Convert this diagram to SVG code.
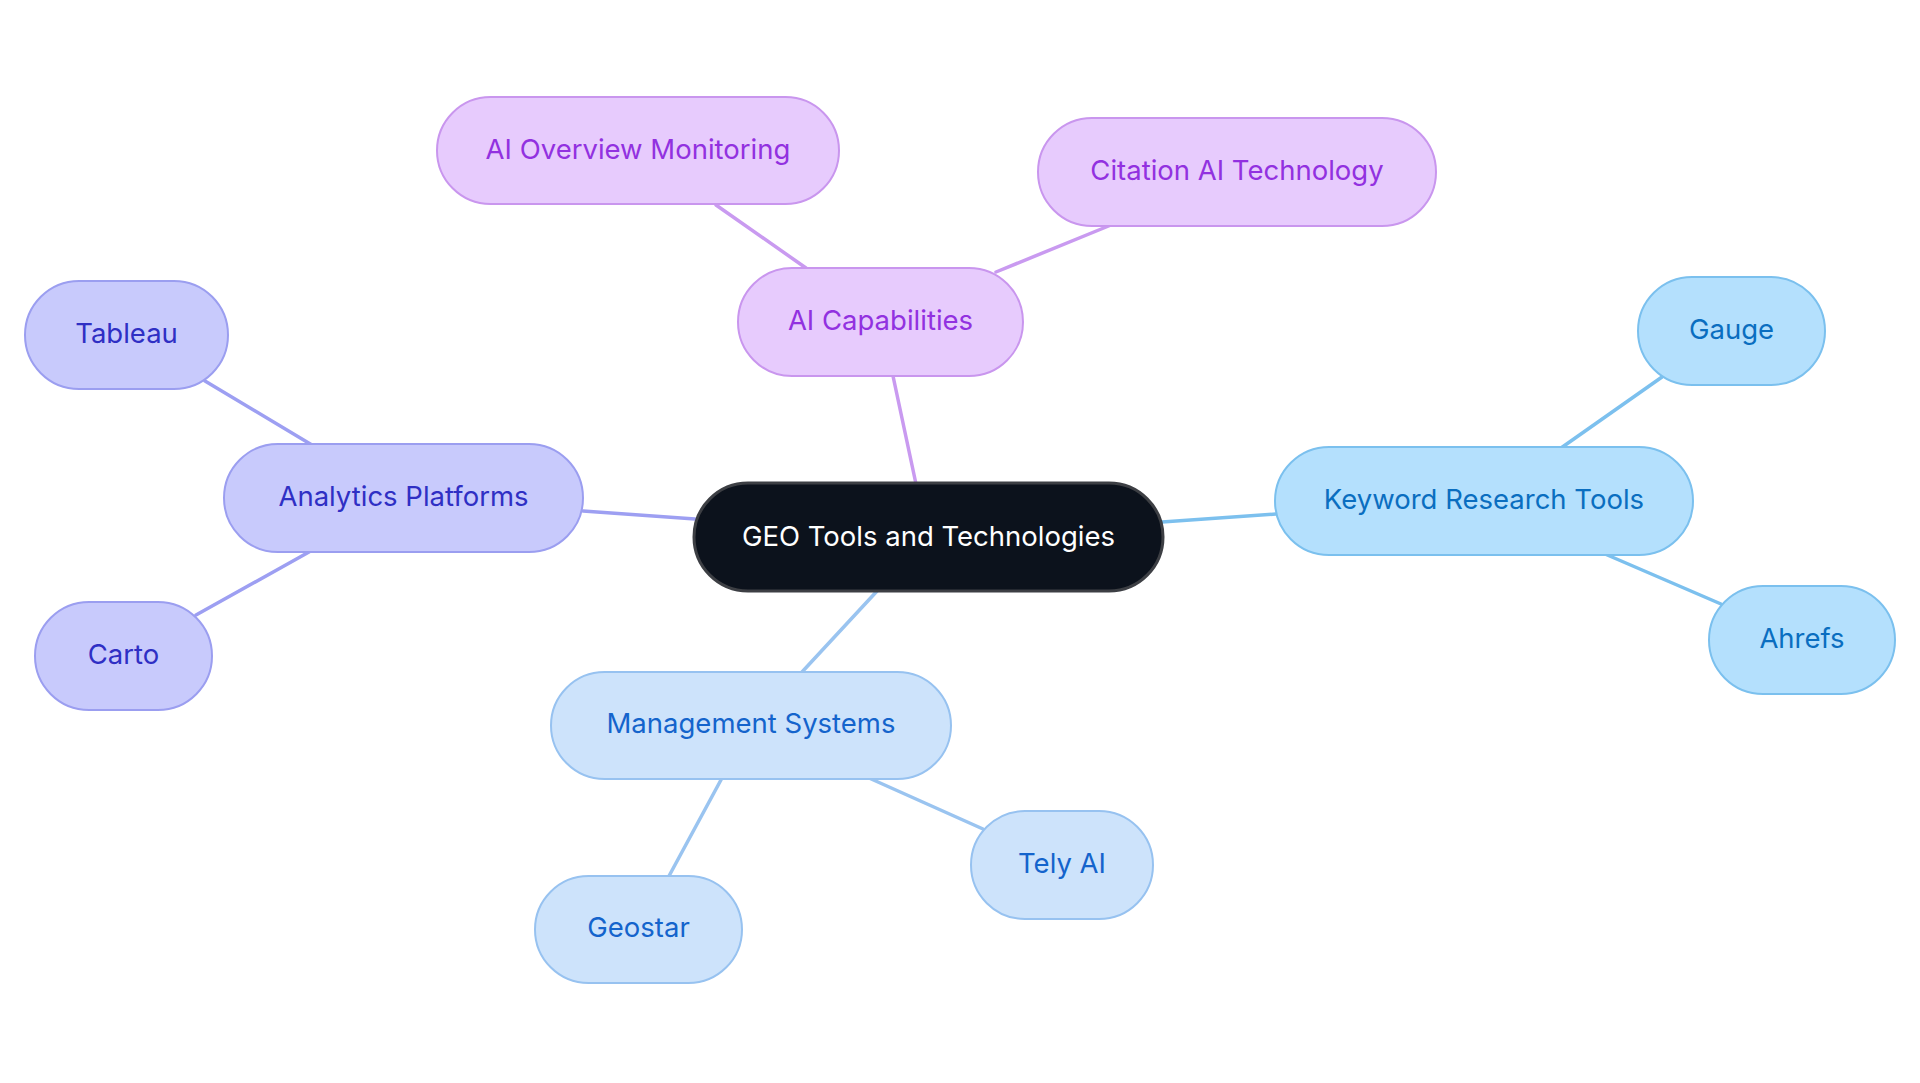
<svg xmlns="http://www.w3.org/2000/svg" width="1920" height="1083" viewBox="0 0 1920 1083">
<style>
text{font-family:Inter,"Noto Sans","Liberation Sans",sans-serif;font-size:27.5px;text-anchor:middle}
.pu rect{fill:#e7cbfd;stroke:#c996ee;stroke-width:2}
.pu text{fill:#9231e0}
.in rect{fill:#c8cafc;stroke:#9b9ef0;stroke-width:2}
.in text{fill:#2f2fc4}
.sk rect{fill:#b4e0fd;stroke:#7bc0ee;stroke-width:2}
.sk text{fill:#0a6ec0}
.bl rect{fill:#cde3fb;stroke:#97c2f0;stroke-width:2}
.bl text{fill:#1464cc}
.root rect{fill:#0c121c;stroke:#3d3f44;stroke-width:3}
.root text{fill:#ffffff}
#edges line{stroke-width:3.5;stroke-linecap:round}
.ep{stroke:#c99af0}.ei{stroke:#9d9ff2}.es{stroke:#7cc0ee}.eb{stroke:#9ac4f0}
</style>
<rect width="1920" height="1083" fill="#ffffff"/>
<g id="edges">
<line class="ep" x1="916" y1="484" x2="893" y2="376"/>
<line class="ep" x1="806" y1="268" x2="716" y2="205"/>
<line class="ep" x1="996" y1="272" x2="1111" y2="225"/>
<line class="ei" x1="695" y1="519" x2="583" y2="511"/>
<line class="ei" x1="312" y1="445" x2="205" y2="381"/>
<line class="ei" x1="309" y1="552" x2="196" y2="615"/>
<line class="es" x1="1162" y1="522" x2="1276" y2="514"/>
<line class="es" x1="1561" y1="448" x2="1662" y2="377"/>
<line class="es" x1="1605" y1="554" x2="1721" y2="604"/>
<line class="eb" x1="878" y1="590" x2="802" y2="672"/>
<line class="eb" x1="722" y1="778" x2="669" y2="876"/>
<line class="eb" x1="869" y1="778" x2="983" y2="829"/>
</g>
<g id="n-root" class="root"><rect x="694" y="483" width="469" height="108" rx="54"/><text x="928.5" y="546">GEO Tools and Technologies</text></g>
<g id="n-ai" class="pu"><rect x="738" y="268" width="285" height="108" rx="54"/><text x="880.5" y="330">AI Capabilities</text></g>
<g id="n-aiov" class="pu"><rect x="437" y="97" width="402" height="107" rx="53.5"/><text x="638" y="159">AI Overview Monitoring</text></g>
<g id="n-cite" class="pu"><rect x="1038" y="118" width="398" height="108" rx="54"/><text x="1237" y="180">Citation AI Technology</text></g>
<g id="n-ana" class="in"><rect x="224" y="444" width="359" height="108" rx="54"/><text x="403.5" y="506">Analytics Platforms</text></g>
<g id="n-tab" class="in"><rect x="25" y="281" width="203" height="108" rx="54"/><text x="126.5" y="343">Tableau</text></g>
<g id="n-carto" class="in"><rect x="35" y="602" width="177" height="108" rx="54"/><text x="123.5" y="664">Carto</text></g>
<g id="n-krt" class="sk"><rect x="1275" y="447" width="418" height="108" rx="54"/><text x="1484" y="509">Keyword Research Tools</text></g>
<g id="n-gauge" class="sk"><rect x="1638" y="277" width="187" height="108" rx="54"/><text x="1731.5" y="339">Gauge</text></g>
<g id="n-ahrefs" class="sk"><rect x="1709" y="586" width="186" height="108" rx="54"/><text x="1802" y="648">Ahrefs</text></g>
<g id="n-ms" class="bl"><rect x="551" y="672" width="400" height="107" rx="53.5"/><text x="751" y="733">Management Systems</text></g>
<g id="n-geo" class="bl"><rect x="535" y="876" width="207" height="107" rx="53.5"/><text x="638.5" y="937">Geostar</text></g>
<g id="n-tely" class="bl"><rect x="971" y="811" width="182" height="108" rx="54"/><text x="1062" y="873">Tely AI</text></g>
</svg>
